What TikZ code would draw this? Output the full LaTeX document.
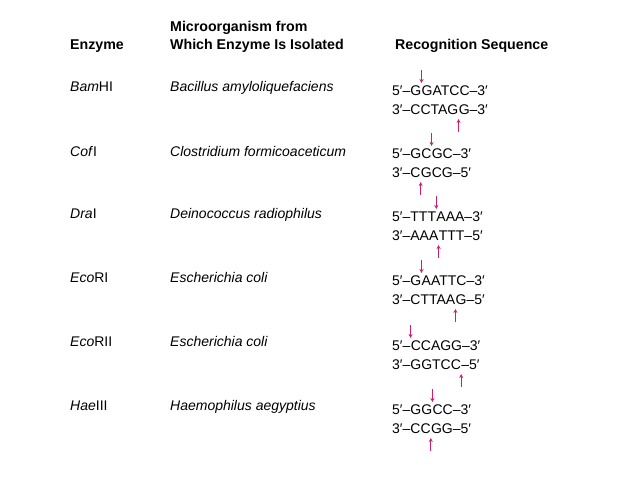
\documentclass[tikz,border=0pt]{standalone}
\usepackage{fontspec}
\setmainfont{Liberation Sans}
\usetikzlibrary{arrows.meta}
\definecolor{cut}{RGB}{205,30,115}
\tikzset{
  txt/.style={anchor=base west,inner sep=0pt,font=\fontsize{14}{16}\selectfont},
  hdr/.style={txt,font=\fontsize{14.2}{16}\selectfont\bfseries},
  it/.style={txt,font=\fontsize{14}{16}\selectfont\itshape},
  cutarrow/.style={draw=cut,line width=0.8pt,-{Stealth[length=4pt,width=4pt]}}
}
% #1 name, #2 x, #3 y baseline, #4 pre, #5 post, #6 down(1)/up(0)
\newcommand{\cutseq}[6]{%
  \node[txt] (#1a) at (#2,#3) {#4};
  \node[txt] (#1b) at (#1a.base east) {#5};
  \ifnum#6=1
    \draw[cutarrow] ([yshift=26pt]#1a.base east) -- ([yshift=13pt]#1a.base east);
  \else
    \draw[cutarrow] ([yshift=-17pt]#1a.base east) -- ([yshift=-4pt]#1a.base east);
  \fi
}
\begin{document}
\begin{tikzpicture}[x=1pt,y=-1pt]
\useasboundingbox (0,0) rectangle (638,478);
\node[hdr] (h1) at (70,50) {Enzyme};
\node[hdr] (h2a) at (170,32) {Microorganism from};
\node[hdr] (h2b) at (170,50) {Which Enzyme Is Isolated};
\node[hdr] (h3) at (395,50) {Recognition Sequence};

\node[txt] (e1) at (70,92) {\textit{Bam}HI};
\node[it] (o1) at (170,92) {Bacillus amyloliquefaciens};
\node[txt] (e2) at (70,157) {\textit{Cof}I};
\node[it] (o2) at (170,157) {Clostridium formicoaceticum};
\node[txt] (e3) at (70,219) {\textit{Dra}I};
\node[it] (o3) at (170,219) {Deinococcus radiophilus};
\node[txt] (e4) at (70,283) {\textit{Eco}RI};
\node[it] (o4) at (170,283) {Escherichia coli};
\node[txt] (e5) at (70,347) {\textit{Eco}RII};
\node[it] (o5) at (170,347) {Escherichia coli};
\node[txt] (e6) at (70,411) {\textit{Hae}III};
\node[it] (o6) at (170,411) {Haemophilus aegyptius};

\cutseq{aT}{392}{96}{5′–G}{GATCC–3′}{1}
\cutseq{aB}{392}{115}{3′–CCTAG}{G–3′}{0}
\cutseq{bT}{392}{159}{5′–GC}{GC–3′}{1}
\cutseq{bB}{392}{178}{3′–C}{GCG–5′}{0}
\cutseq{cT}{392}{222}{5′–TTT}{AAA–3′}{1}
\cutseq{cB}{392}{241}{3′–AAA}{TTT–5′}{0}
\cutseq{dT}{392}{286}{5′–G}{AATTC–3′}{1}
\cutseq{dB}{392}{305}{3′–CTTAA}{G–5′}{0}
\cutseq{eT}{392}{351}{5′–}{CCAGG–3′}{1}
\cutseq{eB}{392}{370}{3′–GGTCC}{–5′}{0}
\cutseq{fT}{392}{415}{5′–GG}{CC–3′}{1}
\cutseq{fB}{392}{434}{3′–CC}{GG–5′}{0}
\end{tikzpicture}
\end{document}
